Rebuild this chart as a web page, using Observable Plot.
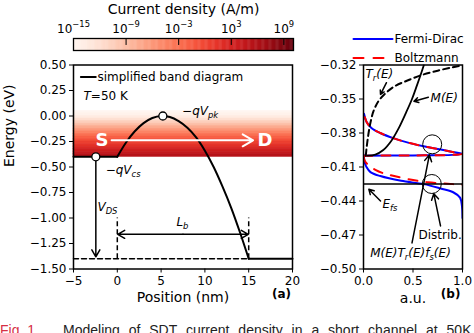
<!DOCTYPE html>
<html><head><meta charset="utf-8">
<script src="https://cdn.jsdelivr.net/npm/d3@7"></script>
<script src="https://cdn.jsdelivr.net/npm/@observablehq/plot@0.6"></script>
<style>
html,body{margin:0;padding:0;background:#fff;}
#wrap{position:relative;width:474px;height:333px;overflow:hidden;background:#fff;}
#wrap svg{position:absolute;overflow:visible;}
.cap{position:absolute;top:323px;font-family:"Liberation Sans",Arial,sans-serif;font-size:14px;line-height:14px;white-space:nowrap;color:#222;}
</style></head><body><div id="wrap"></div>
<script>
// ---------- colour bar ----------
const cbTicks = [-15, -9, -3, 3, 9];
const cbDomain = [-15, 10.1];
const cbTitle = "Current density (A/m)";

// ---------- panel (a): current density band (log10 A/m) ----------
const bandEdges = [0.050, 0.025, 0.000, -0.025, -0.050, -0.075, -0.100, -0.125, -0.150, -0.175, -0.200, -0.225, -0.250, -0.275, -0.300, -0.325, -0.350, -0.375, -0.400];
const bandLogJ  = [-15.5, -14.5, -13.5, -12.0, -10.5, -9.0, -7.5, -6.0, -4.5, -3.0, -1.8, -0.6, 0.5, 1.5, 2.5, 3.5, 4.5, 5.5];
const bandSpan  = [-5, 20];

// simplified band diagram
const sourceX  = [-5, 0];
const sourceE  = [-0.40, -0.40];
const barrierX = [0, 1, 2, 3, 4, 5, 6, 7, 8, 9, 10, 11, 12, 13, 14, 15];
const barrierE = [-0.40, -0.26, -0.15, -0.07, -0.02, 0.00, -0.01, -0.05, -0.115, -0.21, -0.34, -0.50, -0.69, -0.90, -1.14, -1.40];
const drainX   = [15, 20];
const drainE   = [-1.40, -1.40];

const vdsRefX = [-5, 15];
const vdsRefE = [-1.40, -1.40];
const lbMarkX = [0, 15];
const lbMarkE = [-1.40, -1.00];

const aYTicks = [0.5, 0.25, 0, -0.25, -0.5, -0.75, -1.0, -1.25, -1.5];
const aXTicks = [-5, 0, 5, 10, 15, 20];

const aPoints = [{x: -2.45, y: -0.40}, {x: 5.2, y: 0.0}];
const aArrows = [
  {x1: -2.45, y1: -0.43, x2: -2.45, y2: -1.38},
  {x1: 7.5, y1: -1.16, x2: 0.05, y2: -1.16},
  {x1: 7.5, y1: -1.16, x2: 14.95, y2: -1.16}
];
const sdArrow = [{x1: -0.65, y1: -0.238, x2: 15.5, y2: -0.238}];
const aMath = [
  {x: 7.4, y: 0.045, text: "−qV_{pk}"},
  {x: -1.33, y: -0.53, text: "−qV_{cs}"},
  {x: -2.27, y: -0.89, text: "V_{DS}"},
  {x: 6.75, y: -1.045, text: "L_{b}"}
];
const aLegendLineX = [-4.16, -2.46];
const aLegendLineE = [0.382, 0.382];
const aPlain = [
  {x: -2.27, y: 0.382, text: "simplified band diagram"},
  {x: -3.86, y: 0.193, text: "*T*=50 K"}
];
const aSD = [{x: -1.75, y: -0.238, text: "S"}, {x: 16.85, y: -0.238, text: "D"}];

// ---------- panel (b) ----------
const bYTicks = [-0.32, -0.35, -0.38, -0.41, -0.44, -0.47, -0.50];
const bXTicks = [0, 0.5, 1];
const Efs = -0.425;
// current spectrum M(E)Tr(E)fs(E)
const specX = [0.000, 0.500, 0.900, 1.000, 0.900, 0.780, 0.620, 0.450, 0.300, 0.170, 0.080, 0.030, 0.005];
const specE = [-0.4000, -0.3998, -0.3993, -0.3983, -0.3968, -0.3945, -0.3920, -0.3885, -0.3845, -0.3800, -0.3755, -0.3700, -0.3630];
// distribution, Fermi-Dirac
const fdX = [0.000, 0.005, 0.012, 0.030, 0.070, 0.170, 0.380, 0.610, 0.780, 0.910, 0.975, 0.995, 1.000];
const fdE = [-0.3990, -0.4020, -0.4060, -0.4100, -0.4145, -0.4180, -0.4222, -0.4251, -0.4290, -0.4325, -0.4370, -0.4450, -0.4550];
// distribution, Boltzmann
const bzX = [0.000, 0.010, 0.050, 0.120, 0.200, 0.310, 0.450, 0.650, 0.850, 1.000];
const bzE = [-0.4000, -0.4040, -0.4085, -0.4125, -0.4155, -0.4180, -0.4207, -0.4235, -0.4248, -0.4256];
// M(E)
const mX = [0.04, 0.12, 0.20, 0.28, 0.36, 0.43, 0.49, 0.54, 0.58, 0.61];
const mE = [-0.4000, -0.3990, -0.3950, -0.3870, -0.3750, -0.3620, -0.3500, -0.3380, -0.3280, -0.3200];
// Tr(E)
const tX = [0.023, 0.030, 0.040, 0.055, 0.075, 0.100, 0.150, 0.210, 0.310, 0.450, 0.600, 0.750, 0.900, 0.980];
const tE = [-0.400, -0.394, -0.387, -0.378, -0.369, -0.361, -0.352, -0.346, -0.339, -0.3335, -0.3285, -0.325, -0.322, -0.3205];

const bCircles = [{x: 0.694, y: -0.390}, {x: 0.69, y: -0.425}];
const bArrows = [
  {x1: 0.232, y1: -0.3356, x2: 0.172, y2: -0.3459},
  {x1: 0.655, y1: -0.3485, x2: 0.51, y2: -0.3520},
  {x1: 0.49, y1: -0.477, x2: 0.665, y2: -0.3995},
  {x1: 0.778, y1: -0.462, x2: 0.71, y2: -0.4335},
  {x1: 0.172, y1: -0.440, x2: 0.054, y2: -0.4297}
];
const bMathLeft = [
  {x: 0.02, y: -0.3282, text: "T_{r}(E)"},
  {x: 0.677, y: -0.3489, text: "M(E)"},
  {x: 0.192, y: -0.4427, text: "E_{fs}"}
];
const bMathMid = [{x: 0.475, y: -0.4856, text: "M(E)T_{r}(E)f_{s}(E)"}];
const bPlain = [{x: 0.556, y: -0.470, text: "Distrib."}];
const legFD = {x: [-0.101, 0.293], y: [-0.2971, -0.2971], label: "Fermi-Dirac"};
const legBZ = {x: [-0.101, 0.293], y: [-0.3138, -0.3138], label: "Boltzmann"};
const legTextX = 0.313;

// ---------- helpers ----------
const pts = (xs, ys) => xs.map((x, i) => ({x, y: ys[i]}));
const minus = v => (v < 0 ? "−" : "") + Math.abs(v);
const fmt2 = v => (v < 0 ? "−" : "") + Math.abs(v).toFixed(2);
const font = {fontFamily: "DejaVu Sans", fontSize: "12px", background: "transparent", color: "black", overflow: "visible"};
const colorOpt = {type: "linear", scheme: "reds", domain: cbDomain};

function rich(svg) {
  for (const t of svg.querySelectorAll("text")) {
    const s = t.textContent;
    if (!/_\{|\^\{|\*/.test(s)) continue;
    const fs = parseFloat(getComputedStyle(t).fontSize) || 12;
    const parts = s.split(/(_\{[^}]*\}|\^\{[^}]*\}|\*[^*]+\*)/).filter(p => p !== "");
    while (t.firstChild) t.removeChild(t.firstChild);
    let reset = 0;
    for (const p of parts) {
      const ts = document.createElementNS("http://www.w3.org/2000/svg", "tspan");
      let dy = reset; reset = 0;
      if (p.startsWith("_{")) { ts.textContent = p.slice(2, -1); ts.setAttribute("font-size", (fs * 0.7) + "px"); dy += fs * 0.25; reset = -fs * 0.25; }
      else if (p.startsWith("^{")) { ts.textContent = p.slice(2, -1); ts.setAttribute("font-size", (fs * 0.7) + "px"); dy -= fs * 0.42; reset = fs * 0.42; }
      else if (p.startsWith("*")) { ts.textContent = p.slice(1, -1); ts.setAttribute("font-style", "italic"); }
      else ts.textContent = p;
      if (dy) ts.setAttribute("dy", dy);
      t.appendChild(ts);
    }
  }
}

const wrap = document.getElementById("wrap");
function place(svg, left, top) { svg.style.left = left + "px"; svg.style.top = top + "px"; wrap.appendChild(svg); rich(svg); }

// ---------- colour bar ----------
const cbSteps = d3.range(cbDomain[0], cbDomain[1], 0.1);
const cb = Plot.plot({
  width: 300, height: 56, marginLeft: 73, marginRight: 7, marginTop: 38, marginBottom: 6,
  x: {domain: cbDomain}, y: {domain: [0, 1], axis: null},
  color: colorOpt, style: font,
  marks: [
    Plot.rect(cbSteps, {x1: d => d, x2: d => d + 0.15, y1: 0, y2: 1, fill: d => d, clip: true}),
    Plot.ruleX(cbTicks.slice(1), {y1: 1, y2: 0.42, stroke: "black", strokeWidth: 1}),
    Plot.frame({stroke: "black", strokeWidth: 1.3}),
    Plot.axisX({anchor: "top", ticks: cbTicks, tickFormat: d => "10^{" + minus(d) + "}", tickSize: 0, tickPadding: 6, label: null}),
    Plot.text([cbTitle], {frameAnchor: "top", dy: -34, fontSize: 14})
  ]
});

// ---------- panel (a) ----------
const bandRows = bandLogJ.map((j, i) => ({y1: bandEdges[i], y2: bandEdges[i + 1], j}));
const pa = Plot.plot({
  width: 300, height: 310, marginLeft: 73, marginRight: 8, marginTop: 64.5, marginBottom: 41.5,
  x: {domain: [-5, 20]}, y: {domain: [-1.5, 0.5]},
  color: colorOpt, style: font,
  marks: [
    Plot.rect(bandRows, {x1: () => bandSpan[0], x2: () => bandSpan[1], y1: "y1", y2: "y2", fill: "j", stroke: "j", strokeWidth: 0.6}),
    Plot.line(pts(vdsRefX, vdsRefE), {x: "x", y: "y", stroke: "black", strokeWidth: 1.5, strokeDasharray: "5,3"}),
    Plot.ruleX(lbMarkX, {y1: lbMarkE[0], y2: lbMarkE[1], stroke: "black", strokeWidth: 1.5, strokeDasharray: "5,3"}),
    Plot.line(pts(sourceX, sourceE), {x: "x", y: "y", stroke: "black", strokeWidth: 2}),
    Plot.line(pts(barrierX, barrierE), {x: "x", y: "y", stroke: "black", strokeWidth: 2, curve: "catmull-rom"}),
    Plot.line(pts(drainX, drainE), {x: "x", y: "y", stroke: "black", strokeWidth: 2}),
    Plot.arrow(aArrows, {x1: "x1", y1: "y1", x2: "x2", y2: "y2", stroke: "black", strokeWidth: 1.5, headLength: 8}),
    Plot.arrow(sdArrow, {x1: "x1", y1: "y1", x2: "x2", y2: "y2", stroke: "white", strokeWidth: 2, headLength: 9}),
    Plot.dot(aPoints, {x: "x", y: "y", r: 4, fill: "white", stroke: "black", strokeWidth: 1.3}),
    Plot.text(aSD, {x: "x", y: "y", text: "text", fill: "white", fontWeight: "bold", fontSize: 18}),
    Plot.text(aMath, {x: "x", y: "y", text: "text", textAnchor: "start", fontStyle: "italic", fontSize: 12}),
    Plot.line(pts(aLegendLineX, aLegendLineE), {x: "x", y: "y", stroke: "black", strokeWidth: 2}),
    Plot.text(aPlain, {x: "x", y: "y", text: "text", textAnchor: "start", fontSize: 12}),
    Plot.frame({stroke: "black", strokeWidth: 1.5}),
    Plot.axisY({ticks: aYTicks, tickFormat: fmt2, tickSize: 4, tickPadding: 3, label: null}),
    Plot.axisX({ticks: aXTicks, tickFormat: minus, tickSize: 4, tickPadding: 3, label: null}),
    Plot.text(["Position (nm)"], {frameAnchor: "bottom", dy: 32.5, fontSize: 14}),
    Plot.text(["Energy (eV)"], {frameAnchor: "left", rotate: -90, dx: -63.5, fontSize: 14}),
    Plot.text(["(a)"], {x: 18.75, frameAnchor: "bottom", dy: 29, fontWeight: "bold", fontSize: 12})
  ]
});

// ---------- panel (b) ----------
const pb = Plot.plot({
  width: 174, height: 310, marginLeft: 63, marginRight: 12, marginTop: 64.5, marginBottom: 41.5,
  x: {domain: [0, 1]}, y: {domain: [-0.5, -0.32]},
  style: font,
  marks: [
    Plot.line(pts(specX, specE), {x: "x", y: "y", stroke: "#0000ff", strokeWidth: 2, curve: "catmull-rom", clip: true}),
    Plot.line(pts(fdX, fdE), {x: "x", y: "y", stroke: "#0000ff", strokeWidth: 2, curve: "catmull-rom", clip: true}),
    Plot.line(pts(specX, specE), {x: "x", y: "y", stroke: "#ff0000", strokeWidth: 2, strokeDasharray: "9,9", curve: "catmull-rom", clip: true}),
    Plot.line(pts(bzX, bzE), {x: "x", y: "y", stroke: "#ff0000", strokeWidth: 2, strokeDasharray: "9,9", curve: "catmull-rom", clip: true}),
    Plot.ruleY([Efs], {stroke: "black", strokeWidth: 1.5}),
    Plot.line(pts(tX, tE), {x: "x", y: "y", stroke: "black", strokeWidth: 2, strokeDasharray: "6,4", curve: "catmull-rom", clip: true}),
    Plot.line(pts(mX, mE), {x: "x", y: "y", stroke: "black", strokeWidth: 1.8, curve: "catmull-rom", clip: true}),
    Plot.dot(bCircles, {x: "x", y: "y", r: 9.5, fill: "none", stroke: "black", strokeWidth: 1}),
    Plot.arrow(bArrows, {x1: "x1", y1: "y1", x2: "x2", y2: "y2", stroke: "black", strokeWidth: 1.5, headLength: 7}),
    Plot.text(bMathLeft, {x: "x", y: "y", text: "text", textAnchor: "start", fontStyle: "italic", fontSize: 12}),
    Plot.text(bMathMid, {x: "x", y: "y", text: "text", textAnchor: "middle", fontStyle: "italic", fontSize: 12}),
    Plot.text(bPlain, {x: "x", y: "y", text: "text", textAnchor: "start", fontSize: 12}),
    Plot.line(pts(legFD.x, legFD.y), {x: "x", y: "y", stroke: "#0000ff", strokeWidth: 2}),
    Plot.line(pts(legBZ.x, legBZ.y), {x: "x", y: "y", stroke: "#ff0000", strokeWidth: 2, strokeDasharray: "10,10"}),
    Plot.text([legFD, legBZ], {x: () => legTextX, y: d => d.y[0], text: "label", textAnchor: "start", fontSize: 12}),
    Plot.frame({stroke: "black", strokeWidth: 1.5}),
    Plot.axisY({ticks: bYTicks, tickFormat: fmt2, tickSize: 4, tickPadding: 3, label: null}),
    Plot.axisX({ticks: bXTicks, tickFormat: d => d.toFixed(1), tickSize: 4, tickPadding: 3, label: null}),
    Plot.text(["a.u."], {frameAnchor: "bottom", dy: 34, fontSize: 14}),
    Plot.text(["(b)"], {x: 0.88, frameAnchor: "bottom", dy: 29, fontWeight: "bold", fontSize: 12})
  ]
});

place(pa, 0, 0);
place(cb, 0, 0);
place(pb, 300, 0);

const c1 = document.createElement("div"); c1.className = "cap"; c1.style.left = "0px"; c1.style.color = "#d62f45"; c1.textContent = "Fig. 1.";
const c2 = document.createElement("div"); c2.className = "cap"; c2.style.left = "63px"; c2.style.wordSpacing = "5px"; c2.textContent = "Modeling of SDT current density in a short channel at 50K";
wrap.appendChild(c1); wrap.appendChild(c2);
</script></body></html>
